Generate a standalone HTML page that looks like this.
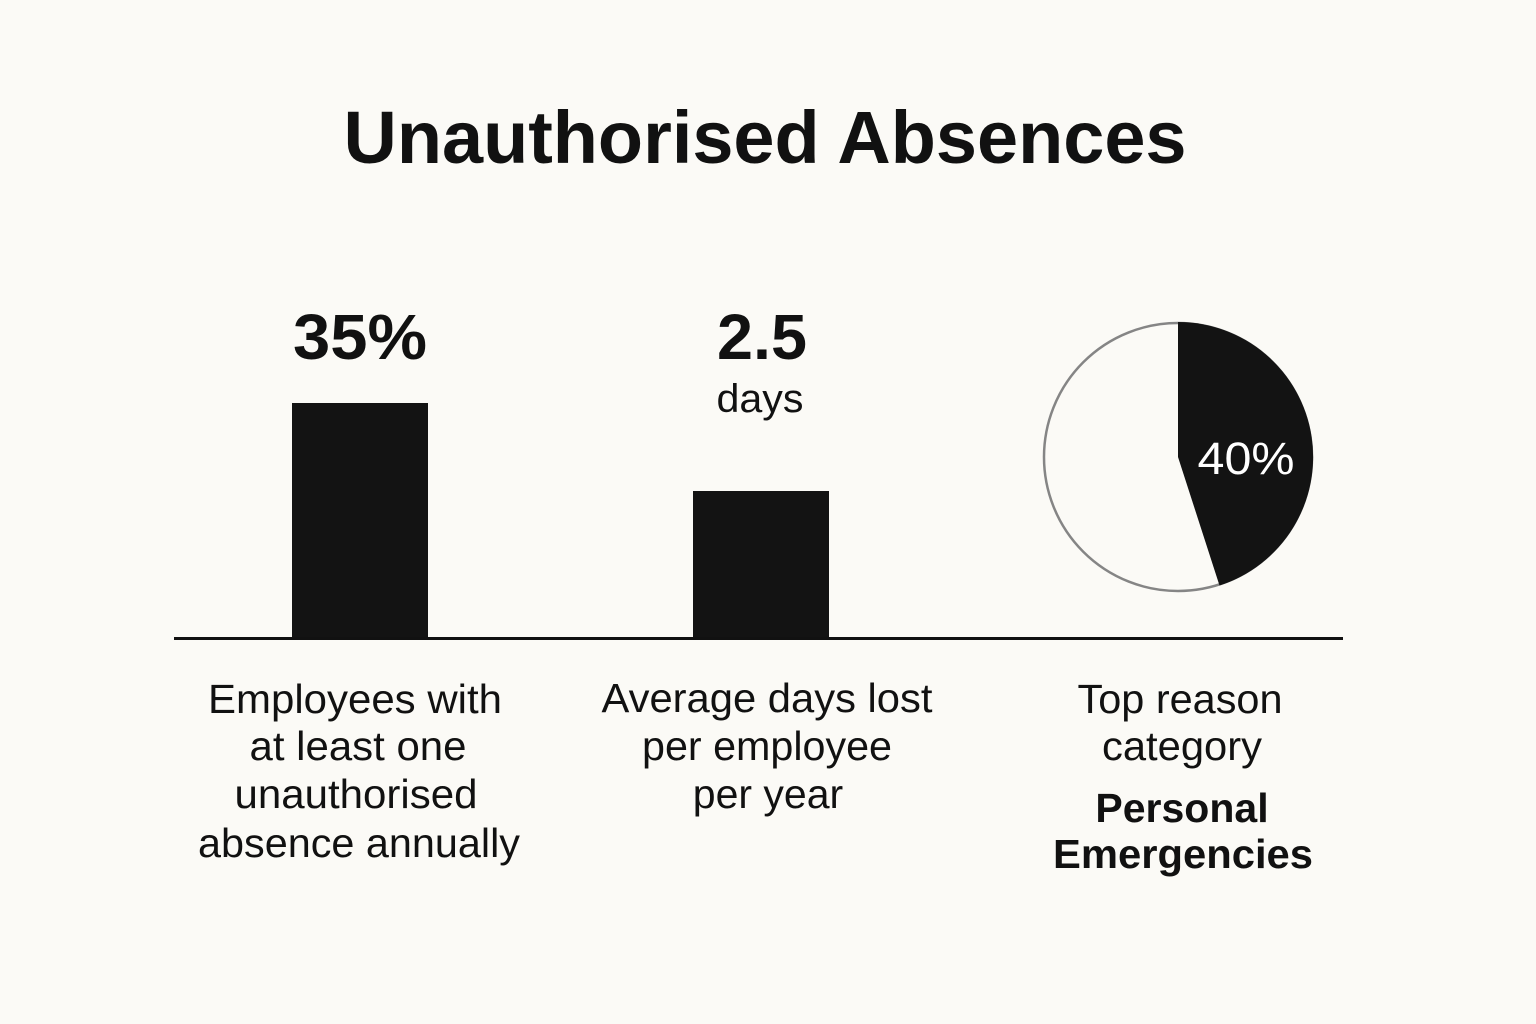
<!DOCTYPE html>
<html>
<head>
<meta charset="utf-8">
<style>
  html, body { margin: 0; padding: 0; background: #fbfaf6; }
  body { width: 1536px; height: 1024px; overflow: hidden; }
  svg { display: block; }
  text { font-family: "Liberation Sans", "DejaVu Sans", sans-serif; fill: #111; }
</style>
</head>
<body>
<svg width="1536" height="1024" viewBox="0 0 1536 1024" xmlns="http://www.w3.org/2000/svg">
  <rect x="0" y="0" width="1536" height="1024" fill="#fbfaf6"/>

  <!-- Title -->
  <text x="765" y="163" font-size="74" font-weight="bold" text-anchor="middle" textLength="843" lengthAdjust="spacingAndGlyphs">Unauthorised Absences</text>

  <!-- Bar 1 -->
  <text x="360" y="359" font-size="64" font-weight="bold" text-anchor="middle" textLength="134" lengthAdjust="spacingAndGlyphs">35%</text>
  <rect x="292" y="403" width="136" height="235" fill="#131313"/>

  <!-- Bar 2 -->
  <text x="762" y="359" font-size="64" font-weight="bold" text-anchor="middle" textLength="90" lengthAdjust="spacingAndGlyphs">2.5</text>
  <text x="760" y="412" font-size="40" text-anchor="middle" textLength="87" lengthAdjust="spacingAndGlyphs">days</text>
  <rect x="693" y="491" width="136" height="147" fill="#131313"/>

  <!-- Axis -->
  <rect x="174" y="637" width="1169" height="3" fill="#111"/>

  <!-- Pie -->
  <circle cx="1178" cy="457" r="134" fill="#fbfaf6" stroke="#858585" stroke-width="2.5"/>
  <path d="M1178,457 L1178,322 A135,135 0 0 1 1219.5,585.5 Z" fill="#131313"/>
  <text x="1246" y="474" font-size="45" text-anchor="middle" style="fill:#fff" textLength="97" lengthAdjust="spacingAndGlyphs">40%</text>

  <!-- Label 1 -->
  <text x="355" y="713" font-size="41" text-anchor="middle" textLength="294" lengthAdjust="spacingAndGlyphs">Employees with</text>
  <text x="358" y="760" font-size="41" text-anchor="middle" textLength="217" lengthAdjust="spacingAndGlyphs">at least one</text>
  <text x="356" y="808" font-size="41" text-anchor="middle" textLength="243" lengthAdjust="spacingAndGlyphs">unauthorised</text>
  <text x="359" y="857" font-size="41" text-anchor="middle" textLength="322" lengthAdjust="spacingAndGlyphs">absence annually</text>

  <!-- Label 2 -->
  <text x="767" y="712" font-size="41" text-anchor="middle" textLength="331" lengthAdjust="spacingAndGlyphs">Average days lost</text>
  <text x="767" y="760" font-size="41" text-anchor="middle" textLength="250" lengthAdjust="spacingAndGlyphs">per employee</text>
  <text x="768" y="808" font-size="41" text-anchor="middle">per year</text>

  <!-- Label 3 -->
  <text x="1180" y="713" font-size="41" text-anchor="middle" textLength="205" lengthAdjust="spacingAndGlyphs">Top reason</text>
  <text x="1182" y="760" font-size="41" text-anchor="middle" textLength="160" lengthAdjust="spacingAndGlyphs">category</text>
  <text x="1182" y="822" font-size="41" font-weight="bold" text-anchor="middle">Personal</text>
  <text x="1183" y="868" font-size="41" font-weight="bold" text-anchor="middle" textLength="260" lengthAdjust="spacingAndGlyphs">Emergencies</text>
</svg>
</body>
</html>
